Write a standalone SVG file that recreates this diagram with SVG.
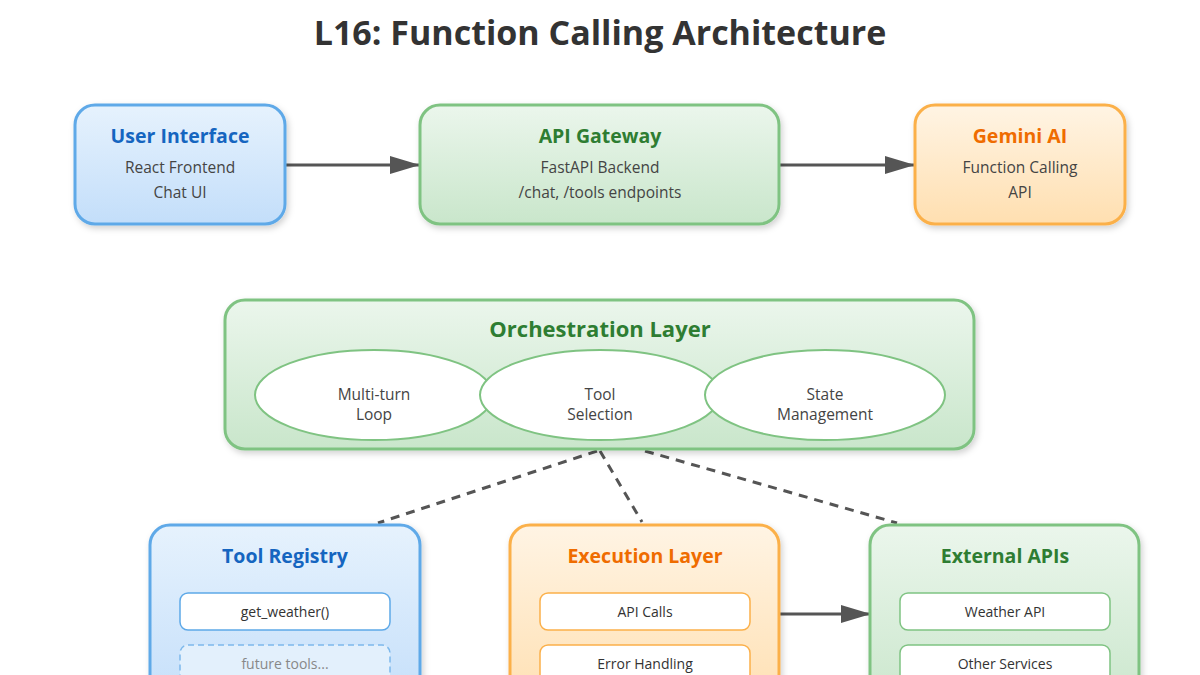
<svg xmlns="http://www.w3.org/2000/svg" width="1200" height="675" viewBox="0 0 1200 675">
<defs>
<linearGradient id="gBlue" x1="0" y1="0" x2="0" y2="1"><stop offset="0" stop-color="#e6f2fd"/><stop offset="1" stop-color="#c3defa"/></linearGradient>
<linearGradient id="gGreen" x1="0" y1="0" x2="0" y2="1"><stop offset="0" stop-color="#ebf6ec"/><stop offset="1" stop-color="#c9e6cb"/></linearGradient>
<linearGradient id="gOrange" x1="0" y1="0" x2="0" y2="1"><stop offset="0" stop-color="#fff4e4"/><stop offset="1" stop-color="#ffdfb0"/></linearGradient>
<filter id="sh" x="-10%" y="-10%" width="120%" height="130%"><feDropShadow dx="2" dy="3" stdDeviation="3" flood-color="#000" flood-opacity="0.18"/></filter>
<marker id="arrBig" viewBox="0 0 30 20" refX="30" refY="10" markerWidth="30" markerHeight="20" orient="auto" markerUnits="userSpaceOnUse"><path d="M0,1 L30,10 L0,19 z" fill="#555"/></marker>
</defs>
<style>
text{font-family:"Open Sans","Liberation Sans",sans-serif;text-anchor:middle}
.title{font-size:34px;font-weight:bold;fill:#333}
.h{font-size:19.5px;font-weight:bold}
.sub{font-size:15.5px;fill:#444}
.in{font-size:14px;fill:#333}
.blue rect.box{fill:url(#gBlue);stroke:#5ea9e8;stroke-width:3}
.green rect.box{fill:url(#gGreen);stroke:#7fc382;stroke-width:3}
.orange rect.box{fill:url(#gOrange);stroke:#fbb04a;stroke-width:3}
.blue .h{fill:#1565c0}
.green .h{fill:#2e7d32}
.orange .h{fill:#ef6c00}
.item{fill:#fff;stroke-width:1.5}
.blue .item{stroke:#5ea9e8}
.green .item{stroke:#7fc382}
.orange .item{stroke:#fbb04a}
.ell{fill:#fff;stroke:#7fc382;stroke-width:2}
.dash{stroke:#555;stroke-width:3;stroke-dasharray:9 7;fill:none}
.solid{stroke:#555;stroke-width:3;fill:none}
</style>
<rect width="1200" height="675" fill="#fff"/>
<text class="title" x="600" y="45">L16: Function Calling Architecture</text>

<g id="connectors">
<line class="solid" x1="286" y1="165" x2="420" y2="165" marker-end="url(#arrBig)"/>
<line class="solid" x1="780" y1="165" x2="915" y2="165" marker-end="url(#arrBig)"/>
<line class="solid" x1="780" y1="614" x2="871" y2="614" marker-end="url(#arrBig)"/>
<line class="dash" x1="597" y1="451" x2="378" y2="523"/>
<line class="dash" x1="600" y1="451" x2="642" y2="522"/>
<line class="dash" x1="645" y1="451" x2="897" y2="523"/>
</g>

<g id="user-interface" class="blue">
<rect class="box" x="75" y="105" width="210" height="119" rx="20" filter="url(#sh)"/>
<text class="h" x="180" y="143">User Interface</text>
<text class="sub" x="180" y="173">React Frontend</text>
<text class="sub" x="180" y="198">Chat UI</text>
</g>

<g id="api-gateway" class="green">
<rect class="box" x="420" y="105" width="359" height="119" rx="20" filter="url(#sh)"/>
<text class="h" x="600" y="143">API Gateway</text>
<text class="sub" x="600" y="173">FastAPI Backend</text>
<text class="sub" x="600" y="198">/chat, /tools endpoints</text>
</g>

<g id="gemini-ai" class="orange">
<rect class="box" x="915" y="105" width="210" height="119" rx="20" filter="url(#sh)"/>
<text class="h" x="1020" y="143">Gemini AI</text>
<text class="sub" x="1020" y="173">Function Calling</text>
<text class="sub" x="1020" y="198">API</text>
</g>

<g id="orchestration-layer" class="green">
<rect class="box" x="225" y="300" width="749" height="149" rx="20" filter="url(#sh)"/>
<text class="h" x="600" y="337" style="font-size:22px">Orchestration Layer</text>
<ellipse class="ell" cx="374" cy="395" rx="119" ry="45"/>
<ellipse class="ell" cx="600" cy="395" rx="120" ry="45"/>
<ellipse class="ell" cx="825" cy="395" rx="120" ry="45"/>
<text class="sub" x="374" y="400">Multi-turn</text>
<text class="sub" x="374" y="420">Loop</text>
<text class="sub" x="600" y="400">Tool</text>
<text class="sub" x="600" y="420">Selection</text>
<text class="sub" x="825" y="400">State</text>
<text class="sub" x="825" y="420">Management</text>
</g>

<g id="tool-registry" class="blue">
<rect class="box" x="150" y="525" width="270" height="190" rx="20" filter="url(#sh)"/>
<text class="h" x="285" y="563">Tool Registry</text>
<rect class="item" x="180" y="593" width="210" height="37" rx="8"/>
<text class="in" x="285" y="617">get_weather()</text>
<rect x="180" y="645" width="210" height="37" rx="8" fill="#e3f0fc" stroke="#7db8eb" stroke-width="1.5" stroke-dasharray="6 4"/>
<text class="in" x="285" y="669" style="fill:#888">future tools...</text>
</g>

<g id="execution-layer" class="orange">
<rect class="box" x="510" y="525" width="269" height="190" rx="20" filter="url(#sh)"/>
<text class="h" x="645" y="563">Execution Layer</text>
<rect class="item" x="540" y="593" width="210" height="37" rx="8"/>
<text class="in" x="645" y="617">API Calls</text>
<rect class="item" x="540" y="645" width="210" height="37" rx="8"/>
<text class="in" x="645" y="669">Error Handling</text>
</g>

<g id="external-apis" class="green">
<rect class="box" x="870" y="525" width="269" height="190" rx="20" filter="url(#sh)"/>
<text class="h" x="1005" y="563">External APIs</text>
<rect class="item" x="900" y="593" width="210" height="37" rx="8"/>
<text class="in" x="1005" y="617">Weather API</text>
<rect class="item" x="900" y="645" width="210" height="37" rx="8"/>
<text class="in" x="1005" y="669">Other Services</text>
</g>
</svg>
